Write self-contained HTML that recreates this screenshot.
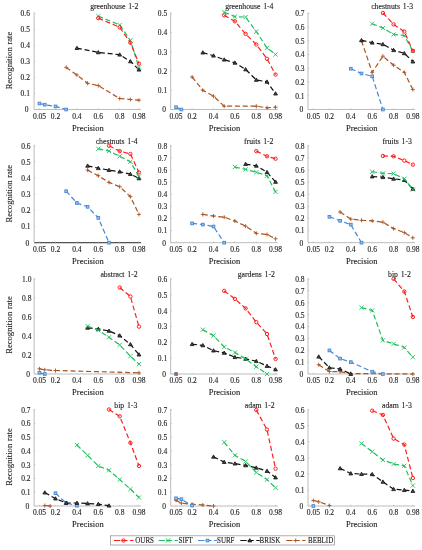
<!DOCTYPE html>
<html><head><meta charset="utf-8"><style>
html,body{margin:0;padding:0;background:#fff;}
svg{display:block;}
svg{will-change:transform;}
text{font-family:"Liberation Serif",serif;fill:#1e1e1e;stroke:#1e1e1e;stroke-width:0.12px;}
.t{font-size:7.5px;}
.l{font-size:8.5px;}
.ti{font-size:7.75px;}
.lg{font-size:7px;}
.rr{font-size:8.6px;word-spacing:0.6px;}
.ti{word-spacing:0.8px;}
</style></head><body>
<svg width="422" height="550" viewBox="0 0 422 550">
<rect width="422" height="550" fill="#fff"/>
<g><path d="M34.10 12.50V109.50H141.10" fill="none" stroke="#b4b4b4" stroke-width="0.9"/><text x="28.60" y="112.40" text-anchor="end" class="t">0</text><text x="29.90" y="96.37" text-anchor="end" class="t">0.1</text><text x="29.90" y="80.33" text-anchor="end" class="t">0.2</text><text x="29.90" y="64.30" text-anchor="end" class="t">0.3</text><text x="29.90" y="48.27" text-anchor="end" class="t">0.4</text><text x="29.90" y="32.23" text-anchor="end" class="t">0.5</text><text x="29.90" y="16.20" text-anchor="end" class="t">0.6</text><text x="39.45" y="118.70" text-anchor="middle" class="t">0.05</text><text x="55.50" y="118.70" text-anchor="middle" class="t">0.2</text><text x="76.90" y="118.70" text-anchor="middle" class="t">0.4</text><text x="98.30" y="118.70" text-anchor="middle" class="t">0.6</text><text x="119.70" y="118.70" text-anchor="middle" class="t">0.8</text><text x="138.96" y="118.70" text-anchor="middle" class="t">0.98</text><path d="M34.10 109.50h1.2M34.10 93.47h1.2M34.10 77.43h1.2M34.10 61.40h1.2M34.10 45.37h1.2M34.10 29.33h1.2M34.10 13.30h1.2M39.45 109.50v-1.2M55.50 109.50v-1.2M76.90 109.50v-1.2M98.30 109.50v-1.2M119.70 109.50v-1.2M138.96 109.50v-1.2" stroke="#b4b4b4" stroke-width="0.7"/><text x="87.90" y="130.90" text-anchor="middle" class="l">Precision</text><text transform="translate(12.0 60.50) rotate(-90)" text-anchor="middle" class="rr">Recognition rate</text><text x="138.50" y="9.30" text-anchor="end" class="ti">greenhouse  1-2</text><path d="M66.20 67.40L76.90 75.00L87.60 83.30L98.30 85.60L119.70 98.50L130.40 99.50L138.96 100.20" fill="none" stroke="#a9541f" stroke-width="1.2" stroke-dasharray="5 2.8"/><path d="M64.20 67.40L68.20 67.40M66.20 65.40L66.20 69.40" stroke="#a9541f" stroke-width="0.9"/><path d="M74.90 75.00L78.90 75.00M76.90 73.00L76.90 77.00" stroke="#a9541f" stroke-width="0.9"/><path d="M85.60 83.30L89.60 83.30M87.60 81.30L87.60 85.30" stroke="#a9541f" stroke-width="0.9"/><path d="M96.30 85.60L100.30 85.60M98.30 83.60L98.30 87.60" stroke="#a9541f" stroke-width="0.9"/><path d="M117.70 98.50L121.70 98.50M119.70 96.50L119.70 100.50" stroke="#a9541f" stroke-width="0.9"/><path d="M128.40 99.50L132.40 99.50M130.40 97.50L130.40 101.50" stroke="#a9541f" stroke-width="0.9"/><path d="M136.96 100.20L140.96 100.20M138.96 98.20L138.96 102.20" stroke="#a9541f" stroke-width="0.9"/><path d="M39.45 103.50L44.80 104.70L55.50 106.40L66.20 109.50" fill="none" stroke="#4787d2" stroke-width="1.2" stroke-dasharray="5 2.8"/><rect x="38.10" y="102.15" width="2.70" height="2.70" fill="#9cc0ea" stroke="#4787d2" stroke-width="0.9"/><rect x="43.45" y="103.35" width="2.70" height="2.70" fill="#9cc0ea" stroke="#4787d2" stroke-width="0.9"/><rect x="54.15" y="105.05" width="2.70" height="2.70" fill="#9cc0ea" stroke="#4787d2" stroke-width="0.9"/><rect x="64.85" y="108.15" width="2.70" height="2.70" fill="#9cc0ea" stroke="#4787d2" stroke-width="0.9"/><path d="M76.90 48.10L98.30 52.40L119.70 54.70L130.40 61.40L138.96 69.70" fill="none" stroke="#111111" stroke-width="1.2" stroke-dasharray="5 2.8"/><path d="M76.90 46.20L78.80 49.52L75.00 49.52Z" fill="#444" stroke="#111111" stroke-width="0.8"/><path d="M98.30 50.50L100.20 53.82L96.40 53.82Z" fill="#444" stroke="#111111" stroke-width="0.8"/><path d="M119.70 52.80L121.60 56.12L117.80 56.12Z" fill="#444" stroke="#111111" stroke-width="0.8"/><path d="M130.40 59.50L132.30 62.82L128.50 62.82Z" fill="#444" stroke="#111111" stroke-width="0.8"/><path d="M138.96 67.80L140.86 71.12L137.06 71.12Z" fill="#444" stroke="#111111" stroke-width="0.8"/><path d="M98.30 16.10L119.70 25.00L130.40 40.40L138.96 67.40" fill="none" stroke="#1fbf5f" stroke-width="1.2" stroke-dasharray="5 2.8"/><path d="M96.20 14.00L100.40 18.20M96.20 18.20L100.40 14.00" stroke="#1fbf5f" stroke-width="0.9"/><path d="M117.60 22.90L121.80 27.10M117.60 27.10L121.80 22.90" stroke="#1fbf5f" stroke-width="0.9"/><path d="M128.30 38.30L132.50 42.50M128.30 42.50L132.50 38.30" stroke="#1fbf5f" stroke-width="0.9"/><path d="M136.86 65.30L141.06 69.50M136.86 69.50L141.06 65.30" stroke="#1fbf5f" stroke-width="0.9"/><path d="M98.30 18.10L119.70 27.30L130.40 42.70L138.96 63.60" fill="none" stroke="#ff1e1e" stroke-width="1.2" stroke-dasharray="5 2.8"/><circle cx="98.30" cy="18.10" r="1.7" fill="none" stroke="#ff1e1e" stroke-width="1.0"/><circle cx="119.70" cy="27.30" r="1.7" fill="none" stroke="#ff1e1e" stroke-width="1.0"/><circle cx="130.40" cy="42.70" r="1.7" fill="none" stroke="#ff1e1e" stroke-width="1.0"/><circle cx="138.96" cy="63.60" r="1.7" fill="none" stroke="#ff1e1e" stroke-width="1.0"/></g><g><path d="M170.70 12.50V109.50H277.70" fill="none" stroke="#b4b4b4" stroke-width="0.9"/><text x="165.90" y="112.40" text-anchor="end" class="t">0</text><text x="167.20" y="93.16" text-anchor="end" class="t">0.1</text><text x="167.20" y="73.92" text-anchor="end" class="t">0.2</text><text x="167.20" y="54.68" text-anchor="end" class="t">0.3</text><text x="167.20" y="35.44" text-anchor="end" class="t">0.4</text><text x="167.20" y="16.20" text-anchor="end" class="t">0.5</text><text x="176.05" y="118.70" text-anchor="middle" class="t">0.05</text><text x="192.10" y="118.70" text-anchor="middle" class="t">0.2</text><text x="213.50" y="118.70" text-anchor="middle" class="t">0.4</text><text x="234.90" y="118.70" text-anchor="middle" class="t">0.6</text><text x="256.30" y="118.70" text-anchor="middle" class="t">0.8</text><text x="275.56" y="118.70" text-anchor="middle" class="t">0.98</text><path d="M170.70 109.50h1.2M170.70 90.26h1.2M170.70 71.02h1.2M170.70 51.78h1.2M170.70 32.54h1.2M170.70 13.30h1.2M176.05 109.50v-1.2M192.10 109.50v-1.2M213.50 109.50v-1.2M234.90 109.50v-1.2M256.30 109.50v-1.2M275.56 109.50v-1.2" stroke="#b4b4b4" stroke-width="0.7"/><text x="224.50" y="130.90" text-anchor="middle" class="l">Precision</text><text x="273.50" y="9.30" text-anchor="end" class="ti">greenhouse  1-4</text><path d="M192.10 77.00L202.80 90.20L213.50 96.20L224.20 106.20L256.30 106.20L267.00 107.80L275.56 107.20" fill="none" stroke="#a9541f" stroke-width="1.2" stroke-dasharray="5 2.8"/><path d="M190.10 77.00L194.10 77.00M192.10 75.00L192.10 79.00" stroke="#a9541f" stroke-width="0.9"/><path d="M200.80 90.20L204.80 90.20M202.80 88.20L202.80 92.20" stroke="#a9541f" stroke-width="0.9"/><path d="M211.50 96.20L215.50 96.20M213.50 94.20L213.50 98.20" stroke="#a9541f" stroke-width="0.9"/><path d="M222.20 106.20L226.20 106.20M224.20 104.20L224.20 108.20" stroke="#a9541f" stroke-width="0.9"/><path d="M254.30 106.20L258.30 106.20M256.30 104.20L256.30 108.20" stroke="#a9541f" stroke-width="0.9"/><path d="M265.00 107.80L269.00 107.80M267.00 105.80L267.00 109.80" stroke="#a9541f" stroke-width="0.9"/><path d="M273.56 107.20L277.56 107.20M275.56 105.20L275.56 109.20" stroke="#a9541f" stroke-width="0.9"/><path d="M176.05 107.20L181.40 109.50" fill="none" stroke="#4787d2" stroke-width="1.2" stroke-dasharray="5 2.8"/><rect x="174.70" y="105.85" width="2.70" height="2.70" fill="#9cc0ea" stroke="#4787d2" stroke-width="0.9"/><rect x="180.05" y="108.15" width="2.70" height="2.70" fill="#9cc0ea" stroke="#4787d2" stroke-width="0.9"/><path d="M202.80 52.60L213.50 55.70L224.20 59.70L234.90 62.80L245.60 69.40L256.30 79.90L267.00 81.80L275.56 93.60" fill="none" stroke="#111111" stroke-width="1.2" stroke-dasharray="5 2.8"/><path d="M202.80 50.70L204.70 54.02L200.90 54.02Z" fill="#444" stroke="#111111" stroke-width="0.8"/><path d="M213.50 53.80L215.40 57.12L211.60 57.12Z" fill="#444" stroke="#111111" stroke-width="0.8"/><path d="M224.20 57.80L226.10 61.12L222.30 61.12Z" fill="#444" stroke="#111111" stroke-width="0.8"/><path d="M234.90 60.90L236.80 64.22L233.00 64.22Z" fill="#444" stroke="#111111" stroke-width="0.8"/><path d="M245.60 67.50L247.50 70.83L243.70 70.83Z" fill="#444" stroke="#111111" stroke-width="0.8"/><path d="M256.30 78.00L258.20 81.33L254.40 81.33Z" fill="#444" stroke="#111111" stroke-width="0.8"/><path d="M267.00 79.90L268.90 83.22L265.10 83.22Z" fill="#444" stroke="#111111" stroke-width="0.8"/><path d="M275.56 91.70L277.46 95.02L273.66 95.02Z" fill="#444" stroke="#111111" stroke-width="0.8"/><path d="M224.20 12.30L234.90 16.60L245.60 17.10L256.30 31.50L267.00 47.90L275.56 54.50" fill="none" stroke="#1fbf5f" stroke-width="1.2" stroke-dasharray="5 2.8"/><path d="M222.10 10.20L226.30 14.40M222.10 14.40L226.30 10.20" stroke="#1fbf5f" stroke-width="0.9"/><path d="M232.80 14.50L237.00 18.70M232.80 18.70L237.00 14.50" stroke="#1fbf5f" stroke-width="0.9"/><path d="M243.50 15.00L247.70 19.20M243.50 19.20L247.70 15.00" stroke="#1fbf5f" stroke-width="0.9"/><path d="M254.20 29.40L258.40 33.60M254.20 33.60L258.40 29.40" stroke="#1fbf5f" stroke-width="0.9"/><path d="M264.90 45.80L269.10 50.00M264.90 50.00L269.10 45.80" stroke="#1fbf5f" stroke-width="0.9"/><path d="M273.46 52.40L277.66 56.60M273.46 56.60L277.66 52.40" stroke="#1fbf5f" stroke-width="0.9"/><path d="M224.20 15.40L234.90 21.30L245.60 33.90L256.30 44.50L267.00 58.80L275.56 74.60" fill="none" stroke="#ff1e1e" stroke-width="1.2" stroke-dasharray="5 2.8"/><circle cx="224.20" cy="15.40" r="1.7" fill="none" stroke="#ff1e1e" stroke-width="1.0"/><circle cx="234.90" cy="21.30" r="1.7" fill="none" stroke="#ff1e1e" stroke-width="1.0"/><circle cx="245.60" cy="33.90" r="1.7" fill="none" stroke="#ff1e1e" stroke-width="1.0"/><circle cx="256.30" cy="44.50" r="1.7" fill="none" stroke="#ff1e1e" stroke-width="1.0"/><circle cx="267.00" cy="58.80" r="1.7" fill="none" stroke="#ff1e1e" stroke-width="1.0"/><circle cx="275.56" cy="74.60" r="1.7" fill="none" stroke="#ff1e1e" stroke-width="1.0"/></g><g><path d="M308.00 12.50V109.50H415.00" fill="none" stroke="#b4b4b4" stroke-width="0.9"/><text x="303.20" y="112.40" text-anchor="end" class="t">0</text><text x="304.50" y="98.66" text-anchor="end" class="t">0.1</text><text x="304.50" y="84.91" text-anchor="end" class="t">0.2</text><text x="304.50" y="71.17" text-anchor="end" class="t">0.3</text><text x="304.50" y="57.43" text-anchor="end" class="t">0.4</text><text x="304.50" y="43.69" text-anchor="end" class="t">0.5</text><text x="304.50" y="29.94" text-anchor="end" class="t">0.6</text><text x="304.50" y="16.20" text-anchor="end" class="t">0.7</text><text x="313.35" y="118.70" text-anchor="middle" class="t">0.05</text><text x="329.40" y="118.70" text-anchor="middle" class="t">0.2</text><text x="350.80" y="118.70" text-anchor="middle" class="t">0.4</text><text x="372.20" y="118.70" text-anchor="middle" class="t">0.6</text><text x="393.60" y="118.70" text-anchor="middle" class="t">0.8</text><text x="412.86" y="118.70" text-anchor="middle" class="t">0.98</text><path d="M308.00 109.50h1.2M308.00 95.76h1.2M308.00 82.01h1.2M308.00 68.27h1.2M308.00 54.53h1.2M308.00 40.79h1.2M308.00 27.04h1.2M308.00 13.30h1.2M313.35 109.50v-1.2M329.40 109.50v-1.2M350.80 109.50v-1.2M372.20 109.50v-1.2M393.60 109.50v-1.2M412.86 109.50v-1.2" stroke="#b4b4b4" stroke-width="0.7"/><text x="361.80" y="130.90" text-anchor="middle" class="l">Precision</text><text x="413.10" y="9.30" text-anchor="end" class="ti">chestnuts  1-3</text><path d="M361.50 40.80L372.20 72.30L382.90 56.20L393.60 65.20L404.30 72.30L412.86 89.60" fill="none" stroke="#a9541f" stroke-width="1.2" stroke-dasharray="5 2.8"/><path d="M359.50 40.80L363.50 40.80M361.50 38.80L361.50 42.80" stroke="#a9541f" stroke-width="0.9"/><path d="M370.20 72.30L374.20 72.30M372.20 70.30L372.20 74.30" stroke="#a9541f" stroke-width="0.9"/><path d="M380.90 56.20L384.90 56.20M382.90 54.20L382.90 58.20" stroke="#a9541f" stroke-width="0.9"/><path d="M391.60 65.20L395.60 65.20M393.60 63.20L393.60 67.20" stroke="#a9541f" stroke-width="0.9"/><path d="M402.30 72.30L406.30 72.30M404.30 70.30L404.30 74.30" stroke="#a9541f" stroke-width="0.9"/><path d="M410.86 89.60L414.86 89.60M412.86 87.60L412.86 91.60" stroke="#a9541f" stroke-width="0.9"/><path d="M350.80 68.70L361.50 73.50L372.20 76.30L382.90 109.50" fill="none" stroke="#4787d2" stroke-width="1.2" stroke-dasharray="5 2.8"/><rect x="349.45" y="67.35" width="2.70" height="2.70" fill="#9cc0ea" stroke="#4787d2" stroke-width="0.9"/><rect x="360.15" y="72.15" width="2.70" height="2.70" fill="#9cc0ea" stroke="#4787d2" stroke-width="0.9"/><rect x="370.85" y="74.95" width="2.70" height="2.70" fill="#9cc0ea" stroke="#4787d2" stroke-width="0.9"/><rect x="381.55" y="108.15" width="2.70" height="2.70" fill="#9cc0ea" stroke="#4787d2" stroke-width="0.9"/><path d="M361.50 40.30L372.20 42.70L382.90 44.30L393.60 50.20L404.30 53.30L412.86 61.60" fill="none" stroke="#111111" stroke-width="1.2" stroke-dasharray="5 2.8"/><path d="M361.50 38.40L363.40 41.72L359.60 41.72Z" fill="#444" stroke="#111111" stroke-width="0.8"/><path d="M372.20 40.80L374.10 44.12L370.30 44.12Z" fill="#444" stroke="#111111" stroke-width="0.8"/><path d="M382.90 42.40L384.80 45.72L381.00 45.72Z" fill="#444" stroke="#111111" stroke-width="0.8"/><path d="M393.60 48.30L395.50 51.62L391.70 51.62Z" fill="#444" stroke="#111111" stroke-width="0.8"/><path d="M404.30 51.40L406.20 54.72L402.40 54.72Z" fill="#444" stroke="#111111" stroke-width="0.8"/><path d="M412.86 59.70L414.76 63.02L410.96 63.02Z" fill="#444" stroke="#111111" stroke-width="0.8"/><path d="M372.20 23.70L382.90 28.00L393.60 34.40L404.30 35.50L412.86 51.00" fill="none" stroke="#1fbf5f" stroke-width="1.2" stroke-dasharray="5 2.8"/><path d="M370.10 21.60L374.30 25.80M370.10 25.80L374.30 21.60" stroke="#1fbf5f" stroke-width="0.9"/><path d="M380.80 25.90L385.00 30.10M380.80 30.10L385.00 25.90" stroke="#1fbf5f" stroke-width="0.9"/><path d="M391.50 32.30L395.70 36.50M391.50 36.50L395.70 32.30" stroke="#1fbf5f" stroke-width="0.9"/><path d="M402.20 33.40L406.40 37.60M402.20 37.60L406.40 33.40" stroke="#1fbf5f" stroke-width="0.9"/><path d="M410.76 48.90L414.96 53.10M410.76 53.10L414.96 48.90" stroke="#1fbf5f" stroke-width="0.9"/><path d="M382.90 13.00L393.60 24.40L404.30 31.50L412.86 51.00" fill="none" stroke="#ff1e1e" stroke-width="1.2" stroke-dasharray="5 2.8"/><circle cx="382.90" cy="13.00" r="1.7" fill="none" stroke="#ff1e1e" stroke-width="1.0"/><circle cx="393.60" cy="24.40" r="1.7" fill="none" stroke="#ff1e1e" stroke-width="1.0"/><circle cx="404.30" cy="31.50" r="1.7" fill="none" stroke="#ff1e1e" stroke-width="1.0"/><circle cx="412.86" cy="51.00" r="1.7" fill="none" stroke="#ff1e1e" stroke-width="1.0"/></g><g><path d="M34.10 144.90V242.70H141.10" fill="none" stroke="#b4b4b4" stroke-width="0.9"/><path d="M34.10 242.70H141.10" fill="none" stroke="#3a3a3a" stroke-width="1"/><text x="29.30" y="245.60" text-anchor="end" class="t">0</text><text x="30.60" y="229.43" text-anchor="end" class="t">0.1</text><text x="30.60" y="213.27" text-anchor="end" class="t">0.2</text><text x="30.60" y="197.10" text-anchor="end" class="t">0.3</text><text x="30.60" y="180.93" text-anchor="end" class="t">0.4</text><text x="30.60" y="164.77" text-anchor="end" class="t">0.5</text><text x="30.60" y="148.60" text-anchor="end" class="t">0.6</text><text x="39.45" y="251.90" text-anchor="middle" class="t">0.05</text><text x="55.50" y="251.90" text-anchor="middle" class="t">0.2</text><text x="76.90" y="251.90" text-anchor="middle" class="t">0.4</text><text x="98.30" y="251.90" text-anchor="middle" class="t">0.6</text><text x="119.70" y="251.90" text-anchor="middle" class="t">0.8</text><text x="138.96" y="251.90" text-anchor="middle" class="t">0.98</text><path d="M34.10 242.70h1.2M34.10 226.53h1.2M34.10 210.37h1.2M34.10 194.20h1.2M34.10 178.03h1.2M34.10 161.87h1.2M34.10 145.70h1.2M39.45 242.70v-1.2M55.50 242.70v-1.2M76.90 242.70v-1.2M98.30 242.70v-1.2M119.70 242.70v-1.2M138.96 242.70v-1.2" stroke="#b4b4b4" stroke-width="0.7"/><text x="87.90" y="264.10" text-anchor="middle" class="l">Precision</text><text transform="translate(12.0 193.70) rotate(-90)" text-anchor="middle" class="rr">Recognition rate</text><text x="137.60" y="143.90" text-anchor="end" class="ti">chestnuts  1-4</text><path d="M87.60 170.10L98.30 175.80L109.00 182.40L119.70 186.70L130.40 196.60L138.96 214.40" fill="none" stroke="#a9541f" stroke-width="1.2" stroke-dasharray="5 2.8"/><path d="M85.60 170.10L89.60 170.10M87.60 168.10L87.60 172.10" stroke="#a9541f" stroke-width="0.9"/><path d="M96.30 175.80L100.30 175.80M98.30 173.80L98.30 177.80" stroke="#a9541f" stroke-width="0.9"/><path d="M107.00 182.40L111.00 182.40M109.00 180.40L109.00 184.40" stroke="#a9541f" stroke-width="0.9"/><path d="M117.70 186.70L121.70 186.70M119.70 184.70L119.70 188.70" stroke="#a9541f" stroke-width="0.9"/><path d="M128.40 196.60L132.40 196.60M130.40 194.60L130.40 198.60" stroke="#a9541f" stroke-width="0.9"/><path d="M136.96 214.40L140.96 214.40M138.96 212.40L138.96 216.40" stroke="#a9541f" stroke-width="0.9"/><path d="M66.20 191.20L76.90 203.00L87.60 206.80L98.30 217.90L109.00 242.70" fill="none" stroke="#4787d2" stroke-width="1.2" stroke-dasharray="5 2.8"/><rect x="64.85" y="189.85" width="2.70" height="2.70" fill="#9cc0ea" stroke="#4787d2" stroke-width="0.9"/><rect x="75.55" y="201.65" width="2.70" height="2.70" fill="#9cc0ea" stroke="#4787d2" stroke-width="0.9"/><rect x="86.25" y="205.45" width="2.70" height="2.70" fill="#9cc0ea" stroke="#4787d2" stroke-width="0.9"/><rect x="96.95" y="216.55" width="2.70" height="2.70" fill="#9cc0ea" stroke="#4787d2" stroke-width="0.9"/><rect x="107.65" y="241.35" width="2.70" height="2.70" fill="#9cc0ea" stroke="#4787d2" stroke-width="0.9"/><path d="M87.60 165.80L98.30 168.20L109.00 170.10L119.70 171.70L130.40 174.10L138.96 178.40" fill="none" stroke="#111111" stroke-width="1.2" stroke-dasharray="5 2.8"/><path d="M87.60 163.90L89.50 167.23L85.70 167.23Z" fill="#444" stroke="#111111" stroke-width="0.8"/><path d="M98.30 166.30L100.20 169.62L96.40 169.62Z" fill="#444" stroke="#111111" stroke-width="0.8"/><path d="M109.00 168.20L110.90 171.53L107.10 171.53Z" fill="#444" stroke="#111111" stroke-width="0.8"/><path d="M119.70 169.80L121.60 173.12L117.80 173.12Z" fill="#444" stroke="#111111" stroke-width="0.8"/><path d="M130.40 172.20L132.30 175.53L128.50 175.53Z" fill="#444" stroke="#111111" stroke-width="0.8"/><path d="M138.96 176.50L140.86 179.83L137.06 179.83Z" fill="#444" stroke="#111111" stroke-width="0.8"/><path d="M98.30 148.70L109.00 151.10L119.70 156.30L130.40 161.80L138.96 176.50" fill="none" stroke="#1fbf5f" stroke-width="1.2" stroke-dasharray="5 2.8"/><path d="M96.20 146.60L100.40 150.80M96.20 150.80L100.40 146.60" stroke="#1fbf5f" stroke-width="0.9"/><path d="M106.90 149.00L111.10 153.20M106.90 153.20L111.10 149.00" stroke="#1fbf5f" stroke-width="0.9"/><path d="M117.60 154.20L121.80 158.40M117.60 158.40L121.80 154.20" stroke="#1fbf5f" stroke-width="0.9"/><path d="M128.30 159.70L132.50 163.90M128.30 163.90L132.50 159.70" stroke="#1fbf5f" stroke-width="0.9"/><path d="M136.86 174.40L141.06 178.60M136.86 178.60L141.06 174.40" stroke="#1fbf5f" stroke-width="0.9"/><path d="M109.00 145.70L119.70 151.10L130.40 154.00L138.96 172.40" fill="none" stroke="#ff1e1e" stroke-width="1.2" stroke-dasharray="5 2.8"/><circle cx="109.00" cy="145.70" r="1.7" fill="none" stroke="#ff1e1e" stroke-width="1.0"/><circle cx="119.70" cy="151.10" r="1.7" fill="none" stroke="#ff1e1e" stroke-width="1.0"/><circle cx="130.40" cy="154.00" r="1.7" fill="none" stroke="#ff1e1e" stroke-width="1.0"/><circle cx="138.96" cy="172.40" r="1.7" fill="none" stroke="#ff1e1e" stroke-width="1.0"/></g><g><path d="M170.70 144.90V242.70H277.70" fill="none" stroke="#b4b4b4" stroke-width="0.9"/><text x="165.90" y="245.60" text-anchor="end" class="t">0</text><text x="167.20" y="233.47" text-anchor="end" class="t">0.1</text><text x="167.20" y="221.35" text-anchor="end" class="t">0.2</text><text x="167.20" y="209.22" text-anchor="end" class="t">0.3</text><text x="167.20" y="197.10" text-anchor="end" class="t">0.4</text><text x="167.20" y="184.97" text-anchor="end" class="t">0.5</text><text x="167.20" y="172.85" text-anchor="end" class="t">0.6</text><text x="167.20" y="160.72" text-anchor="end" class="t">0.7</text><text x="167.20" y="148.60" text-anchor="end" class="t">0.8</text><text x="176.05" y="251.90" text-anchor="middle" class="t">0.05</text><text x="192.10" y="251.90" text-anchor="middle" class="t">0.2</text><text x="213.50" y="251.90" text-anchor="middle" class="t">0.4</text><text x="234.90" y="251.90" text-anchor="middle" class="t">0.6</text><text x="256.30" y="251.90" text-anchor="middle" class="t">0.8</text><text x="275.56" y="251.90" text-anchor="middle" class="t">0.98</text><path d="M170.70 242.70h1.2M170.70 230.57h1.2M170.70 218.45h1.2M170.70 206.32h1.2M170.70 194.20h1.2M170.70 182.07h1.2M170.70 169.95h1.2M170.70 157.82h1.2M170.70 145.70h1.2M176.05 242.70v-1.2M192.10 242.70v-1.2M213.50 242.70v-1.2M234.90 242.70v-1.2M256.30 242.70v-1.2M275.56 242.70v-1.2" stroke="#b4b4b4" stroke-width="0.7"/><text x="224.50" y="264.10" text-anchor="middle" class="l">Precision</text><text x="273.50" y="143.90" text-anchor="end" class="ti">fruits  1-2</text><path d="M202.80 214.40L213.50 216.00L224.20 217.20L234.90 221.00L245.60 226.20L256.30 233.30L267.00 234.50L275.56 238.80" fill="none" stroke="#a9541f" stroke-width="1.2" stroke-dasharray="5 2.8"/><path d="M200.80 214.40L204.80 214.40M202.80 212.40L202.80 216.40" stroke="#a9541f" stroke-width="0.9"/><path d="M211.50 216.00L215.50 216.00M213.50 214.00L213.50 218.00" stroke="#a9541f" stroke-width="0.9"/><path d="M222.20 217.20L226.20 217.20M224.20 215.20L224.20 219.20" stroke="#a9541f" stroke-width="0.9"/><path d="M232.90 221.00L236.90 221.00M234.90 219.00L234.90 223.00" stroke="#a9541f" stroke-width="0.9"/><path d="M243.60 226.20L247.60 226.20M245.60 224.20L245.60 228.20" stroke="#a9541f" stroke-width="0.9"/><path d="M254.30 233.30L258.30 233.30M256.30 231.30L256.30 235.30" stroke="#a9541f" stroke-width="0.9"/><path d="M265.00 234.50L269.00 234.50M267.00 232.50L267.00 236.50" stroke="#a9541f" stroke-width="0.9"/><path d="M273.56 238.80L277.56 238.80M275.56 236.80L275.56 240.80" stroke="#a9541f" stroke-width="0.9"/><path d="M192.10 223.40L202.80 224.60L213.50 226.50L224.20 242.70" fill="none" stroke="#4787d2" stroke-width="1.2" stroke-dasharray="5 2.8"/><rect x="190.75" y="222.05" width="2.70" height="2.70" fill="#9cc0ea" stroke="#4787d2" stroke-width="0.9"/><rect x="201.45" y="223.25" width="2.70" height="2.70" fill="#9cc0ea" stroke="#4787d2" stroke-width="0.9"/><rect x="212.15" y="225.15" width="2.70" height="2.70" fill="#9cc0ea" stroke="#4787d2" stroke-width="0.9"/><rect x="222.85" y="241.35" width="2.70" height="2.70" fill="#9cc0ea" stroke="#4787d2" stroke-width="0.9"/><path d="M245.60 164.10L256.30 165.80L267.00 172.20L275.56 181.90" fill="none" stroke="#111111" stroke-width="1.2" stroke-dasharray="5 2.8"/><path d="M245.60 162.20L247.50 165.53L243.70 165.53Z" fill="#444" stroke="#111111" stroke-width="0.8"/><path d="M256.30 163.90L258.20 167.23L254.40 167.23Z" fill="#444" stroke="#111111" stroke-width="0.8"/><path d="M267.00 170.30L268.90 173.62L265.10 173.62Z" fill="#444" stroke="#111111" stroke-width="0.8"/><path d="M275.56 180.00L277.46 183.33L273.66 183.33Z" fill="#444" stroke="#111111" stroke-width="0.8"/><path d="M234.90 167.00L245.60 169.40L256.30 172.20L267.00 175.80L275.56 191.90" fill="none" stroke="#1fbf5f" stroke-width="1.2" stroke-dasharray="5 2.8"/><path d="M232.80 164.90L237.00 169.10M232.80 169.10L237.00 164.90" stroke="#1fbf5f" stroke-width="0.9"/><path d="M243.50 167.30L247.70 171.50M243.50 171.50L247.70 167.30" stroke="#1fbf5f" stroke-width="0.9"/><path d="M254.20 170.10L258.40 174.30M254.20 174.30L258.40 170.10" stroke="#1fbf5f" stroke-width="0.9"/><path d="M264.90 173.70L269.10 177.90M264.90 177.90L269.10 173.70" stroke="#1fbf5f" stroke-width="0.9"/><path d="M273.46 189.80L277.66 194.00M273.46 194.00L277.66 189.80" stroke="#1fbf5f" stroke-width="0.9"/><path d="M256.30 151.10L267.00 156.30L275.56 158.70" fill="none" stroke="#ff1e1e" stroke-width="1.2" stroke-dasharray="5 2.8"/><circle cx="256.30" cy="151.10" r="1.7" fill="none" stroke="#ff1e1e" stroke-width="1.0"/><circle cx="267.00" cy="156.30" r="1.7" fill="none" stroke="#ff1e1e" stroke-width="1.0"/><circle cx="275.56" cy="158.70" r="1.7" fill="none" stroke="#ff1e1e" stroke-width="1.0"/></g><g><path d="M308.00 144.90V242.70H415.00" fill="none" stroke="#b4b4b4" stroke-width="0.9"/><text x="303.20" y="245.60" text-anchor="end" class="t">0</text><text x="304.50" y="233.47" text-anchor="end" class="t">0.1</text><text x="304.50" y="221.35" text-anchor="end" class="t">0.2</text><text x="304.50" y="209.22" text-anchor="end" class="t">0.3</text><text x="304.50" y="197.10" text-anchor="end" class="t">0.4</text><text x="304.50" y="184.97" text-anchor="end" class="t">0.5</text><text x="304.50" y="172.85" text-anchor="end" class="t">0.6</text><text x="304.50" y="160.72" text-anchor="end" class="t">0.7</text><text x="304.50" y="148.60" text-anchor="end" class="t">0.8</text><text x="313.35" y="251.90" text-anchor="middle" class="t">0.05</text><text x="329.40" y="251.90" text-anchor="middle" class="t">0.2</text><text x="350.80" y="251.90" text-anchor="middle" class="t">0.4</text><text x="372.20" y="251.90" text-anchor="middle" class="t">0.6</text><text x="393.60" y="251.90" text-anchor="middle" class="t">0.8</text><text x="412.86" y="251.90" text-anchor="middle" class="t">0.98</text><path d="M308.00 242.70h1.2M308.00 230.57h1.2M308.00 218.45h1.2M308.00 206.32h1.2M308.00 194.20h1.2M308.00 182.07h1.2M308.00 169.95h1.2M308.00 157.82h1.2M308.00 145.70h1.2M313.35 242.70v-1.2M329.40 242.70v-1.2M350.80 242.70v-1.2M372.20 242.70v-1.2M393.60 242.70v-1.2M412.86 242.70v-1.2" stroke="#b4b4b4" stroke-width="0.7"/><text x="361.80" y="264.10" text-anchor="middle" class="l">Precision</text><text x="411.90" y="143.90" text-anchor="end" class="ti">fruits  1-3</text><path d="M340.10 212.00L350.80 219.10L361.50 220.30L372.20 220.80L382.90 222.20L393.60 228.60L404.30 232.60L412.86 237.80" fill="none" stroke="#a9541f" stroke-width="1.2" stroke-dasharray="5 2.8"/><path d="M338.10 212.00L342.10 212.00M340.10 210.00L340.10 214.00" stroke="#a9541f" stroke-width="0.9"/><path d="M348.80 219.10L352.80 219.10M350.80 217.10L350.80 221.10" stroke="#a9541f" stroke-width="0.9"/><path d="M359.50 220.30L363.50 220.30M361.50 218.30L361.50 222.30" stroke="#a9541f" stroke-width="0.9"/><path d="M370.20 220.80L374.20 220.80M372.20 218.80L372.20 222.80" stroke="#a9541f" stroke-width="0.9"/><path d="M380.90 222.20L384.90 222.20M382.90 220.20L382.90 224.20" stroke="#a9541f" stroke-width="0.9"/><path d="M391.60 228.60L395.60 228.60M393.60 226.60L393.60 230.60" stroke="#a9541f" stroke-width="0.9"/><path d="M402.30 232.60L406.30 232.60M404.30 230.60L404.30 234.60" stroke="#a9541f" stroke-width="0.9"/><path d="M410.86 237.80L414.86 237.80M412.86 235.80L412.86 239.80" stroke="#a9541f" stroke-width="0.9"/><path d="M329.40 216.80L340.10 220.80L350.80 224.60L361.50 242.70" fill="none" stroke="#4787d2" stroke-width="1.2" stroke-dasharray="5 2.8"/><rect x="328.05" y="215.45" width="2.70" height="2.70" fill="#9cc0ea" stroke="#4787d2" stroke-width="0.9"/><rect x="338.75" y="219.45" width="2.70" height="2.70" fill="#9cc0ea" stroke="#4787d2" stroke-width="0.9"/><rect x="349.45" y="223.25" width="2.70" height="2.70" fill="#9cc0ea" stroke="#4787d2" stroke-width="0.9"/><rect x="360.15" y="241.35" width="2.70" height="2.70" fill="#9cc0ea" stroke="#4787d2" stroke-width="0.9"/><path d="M372.20 176.50L382.90 177.20L393.60 178.80L404.30 180.00L412.86 189.00" fill="none" stroke="#111111" stroke-width="1.2" stroke-dasharray="5 2.8"/><path d="M372.20 174.60L374.10 177.93L370.30 177.93Z" fill="#444" stroke="#111111" stroke-width="0.8"/><path d="M382.90 175.30L384.80 178.62L381.00 178.62Z" fill="#444" stroke="#111111" stroke-width="0.8"/><path d="M393.60 176.90L395.50 180.23L391.70 180.23Z" fill="#444" stroke="#111111" stroke-width="0.8"/><path d="M404.30 178.10L406.20 181.43L402.40 181.43Z" fill="#444" stroke="#111111" stroke-width="0.8"/><path d="M412.86 187.10L414.76 190.43L410.96 190.43Z" fill="#444" stroke="#111111" stroke-width="0.8"/><path d="M372.20 171.70L382.90 173.40L393.60 173.60L404.30 178.80L412.86 189.50" fill="none" stroke="#1fbf5f" stroke-width="1.2" stroke-dasharray="5 2.8"/><path d="M370.10 169.60L374.30 173.80M370.10 173.80L374.30 169.60" stroke="#1fbf5f" stroke-width="0.9"/><path d="M380.80 171.30L385.00 175.50M380.80 175.50L385.00 171.30" stroke="#1fbf5f" stroke-width="0.9"/><path d="M391.50 171.50L395.70 175.70M391.50 175.70L395.70 171.50" stroke="#1fbf5f" stroke-width="0.9"/><path d="M402.20 176.70L406.40 180.90M402.20 180.90L406.40 176.70" stroke="#1fbf5f" stroke-width="0.9"/><path d="M410.76 187.40L414.96 191.60M410.76 191.60L414.96 187.40" stroke="#1fbf5f" stroke-width="0.9"/><path d="M382.90 155.90L393.60 156.30L404.30 160.60L412.86 164.60" fill="none" stroke="#ff1e1e" stroke-width="1.2" stroke-dasharray="5 2.8"/><circle cx="382.90" cy="155.90" r="1.7" fill="none" stroke="#ff1e1e" stroke-width="1.0"/><circle cx="393.60" cy="156.30" r="1.7" fill="none" stroke="#ff1e1e" stroke-width="1.0"/><circle cx="404.30" cy="160.60" r="1.7" fill="none" stroke="#ff1e1e" stroke-width="1.0"/><circle cx="412.86" cy="164.60" r="1.7" fill="none" stroke="#ff1e1e" stroke-width="1.0"/></g><g><path d="M34.10 278.20V374.00H141.10" fill="none" stroke="#b4b4b4" stroke-width="0.9"/><text x="30.10" y="376.90" text-anchor="end" class="t">0</text><text x="31.40" y="357.90" text-anchor="end" class="t">0.2</text><text x="31.40" y="338.90" text-anchor="end" class="t">0.4</text><text x="31.40" y="319.90" text-anchor="end" class="t">0.6</text><text x="31.40" y="300.90" text-anchor="end" class="t">0.8</text><text x="31.40" y="281.90" text-anchor="end" class="t">1.0</text><text x="39.45" y="383.20" text-anchor="middle" class="t">0.05</text><text x="55.50" y="383.20" text-anchor="middle" class="t">0.2</text><text x="76.90" y="383.20" text-anchor="middle" class="t">0.4</text><text x="98.30" y="383.20" text-anchor="middle" class="t">0.6</text><text x="119.70" y="383.20" text-anchor="middle" class="t">0.8</text><text x="138.96" y="383.20" text-anchor="middle" class="t">0.98</text><path d="M34.10 374.00h1.2M34.10 355.00h1.2M34.10 336.00h1.2M34.10 317.00h1.2M34.10 298.00h1.2M34.10 279.00h1.2M39.45 374.00v-1.2M55.50 374.00v-1.2M76.90 374.00v-1.2M98.30 374.00v-1.2M119.70 374.00v-1.2M138.96 374.00v-1.2" stroke="#b4b4b4" stroke-width="0.7"/><text x="87.90" y="395.40" text-anchor="middle" class="l">Precision</text><text transform="translate(12.0 325.00) rotate(-90)" text-anchor="middle" class="rr">Recognition rate</text><text x="137.60" y="277.20" text-anchor="end" class="ti">abstract  1-2</text><path d="M39.45 368.80L44.80 369.80L55.50 370.50L138.96 372.80" fill="none" stroke="#a9541f" stroke-width="1.2" stroke-dasharray="5 2.8"/><path d="M37.45 368.80L41.45 368.80M39.45 366.80L39.45 370.80" stroke="#a9541f" stroke-width="0.9"/><path d="M42.80 369.80L46.80 369.80M44.80 367.80L44.80 371.80" stroke="#a9541f" stroke-width="0.9"/><path d="M53.50 370.50L57.50 370.50M55.50 368.50L55.50 372.50" stroke="#a9541f" stroke-width="0.9"/><path d="M136.96 372.80L140.96 372.80M138.96 370.80L138.96 374.80" stroke="#a9541f" stroke-width="0.9"/><path d="M39.45 372.80L44.80 374.00" fill="none" stroke="#4787d2" stroke-width="1.2" stroke-dasharray="5 2.8"/><rect x="38.10" y="371.45" width="2.70" height="2.70" fill="#9cc0ea" stroke="#4787d2" stroke-width="0.9"/><rect x="43.45" y="372.65" width="2.70" height="2.70" fill="#9cc0ea" stroke="#4787d2" stroke-width="0.9"/><path d="M87.60 327.80L98.30 329.00L109.00 330.90L119.70 335.60L130.40 344.40L138.96 354.60" fill="none" stroke="#111111" stroke-width="1.2" stroke-dasharray="5 2.8"/><path d="M87.60 325.90L89.50 329.23L85.70 329.23Z" fill="#444" stroke="#111111" stroke-width="0.8"/><path d="M98.30 327.10L100.20 330.43L96.40 330.43Z" fill="#444" stroke="#111111" stroke-width="0.8"/><path d="M109.00 329.00L110.90 332.32L107.10 332.32Z" fill="#444" stroke="#111111" stroke-width="0.8"/><path d="M119.70 333.70L121.60 337.03L117.80 337.03Z" fill="#444" stroke="#111111" stroke-width="0.8"/><path d="M130.40 342.50L132.30 345.82L128.50 345.82Z" fill="#444" stroke="#111111" stroke-width="0.8"/><path d="M138.96 352.70L140.86 356.03L137.06 356.03Z" fill="#444" stroke="#111111" stroke-width="0.8"/><path d="M87.60 326.10L98.30 330.20L109.00 337.30L119.70 344.90L130.40 356.20L138.96 364.10" fill="none" stroke="#1fbf5f" stroke-width="1.2" stroke-dasharray="5 2.8"/><path d="M85.50 324.00L89.70 328.20M85.50 328.20L89.70 324.00" stroke="#1fbf5f" stroke-width="0.9"/><path d="M96.20 328.10L100.40 332.30M96.20 332.30L100.40 328.10" stroke="#1fbf5f" stroke-width="0.9"/><path d="M106.90 335.20L111.10 339.40M106.90 339.40L111.10 335.20" stroke="#1fbf5f" stroke-width="0.9"/><path d="M117.60 342.80L121.80 347.00M117.60 347.00L121.80 342.80" stroke="#1fbf5f" stroke-width="0.9"/><path d="M128.30 354.10L132.50 358.30M128.30 358.30L132.50 354.10" stroke="#1fbf5f" stroke-width="0.9"/><path d="M136.86 362.00L141.06 366.20M136.86 366.20L141.06 362.00" stroke="#1fbf5f" stroke-width="0.9"/><path d="M119.70 287.50L130.40 296.50L138.96 326.60" fill="none" stroke="#ff1e1e" stroke-width="1.2" stroke-dasharray="5 2.8"/><circle cx="119.70" cy="287.50" r="1.7" fill="none" stroke="#ff1e1e" stroke-width="1.0"/><circle cx="130.40" cy="296.50" r="1.7" fill="none" stroke="#ff1e1e" stroke-width="1.0"/><circle cx="138.96" cy="326.60" r="1.7" fill="none" stroke="#ff1e1e" stroke-width="1.0"/></g><g><path d="M170.70 278.20V374.00H277.70" fill="none" stroke="#b4b4b4" stroke-width="0.9"/><text x="165.90" y="376.90" text-anchor="end" class="t">0</text><text x="167.20" y="361.07" text-anchor="end" class="t">0.1</text><text x="167.20" y="345.23" text-anchor="end" class="t">0.2</text><text x="167.20" y="329.40" text-anchor="end" class="t">0.3</text><text x="167.20" y="313.57" text-anchor="end" class="t">0.4</text><text x="167.20" y="297.73" text-anchor="end" class="t">0.5</text><text x="167.20" y="281.90" text-anchor="end" class="t">0.6</text><text x="176.05" y="383.20" text-anchor="middle" class="t">0.05</text><text x="192.10" y="383.20" text-anchor="middle" class="t">0.2</text><text x="213.50" y="383.20" text-anchor="middle" class="t">0.4</text><text x="234.90" y="383.20" text-anchor="middle" class="t">0.6</text><text x="256.30" y="383.20" text-anchor="middle" class="t">0.8</text><text x="275.56" y="383.20" text-anchor="middle" class="t">0.98</text><path d="M170.70 374.00h1.2M170.70 358.17h1.2M170.70 342.33h1.2M170.70 326.50h1.2M170.70 310.67h1.2M170.70 294.83h1.2M170.70 279.00h1.2M176.05 374.00v-1.2M192.10 374.00v-1.2M213.50 374.00v-1.2M234.90 374.00v-1.2M256.30 374.00v-1.2M275.56 374.00v-1.2" stroke="#b4b4b4" stroke-width="0.7"/><text x="224.50" y="395.40" text-anchor="middle" class="l">Precision</text><text x="274.90" y="277.20" text-anchor="end" class="ti">gardens  1-2</text><rect x="174.70" y="372.65" width="2.70" height="2.70" fill="#9cc0ea" stroke="#4787d2" stroke-width="0.9"/><path d="M174.05 374.00L178.05 374.00M176.05 372.00L176.05 376.00" stroke="#a9541f" stroke-width="0.9"/><path d="M192.10 344.20L202.80 345.40L213.50 350.60L224.20 352.90L234.90 357.20L245.60 358.90L256.30 361.20L267.00 366.00L275.56 369.50" fill="none" stroke="#111111" stroke-width="1.2" stroke-dasharray="5 2.8"/><path d="M192.10 342.30L194.00 345.62L190.20 345.62Z" fill="#444" stroke="#111111" stroke-width="0.8"/><path d="M202.80 343.50L204.70 346.82L200.90 346.82Z" fill="#444" stroke="#111111" stroke-width="0.8"/><path d="M213.50 348.70L215.40 352.03L211.60 352.03Z" fill="#444" stroke="#111111" stroke-width="0.8"/><path d="M224.20 351.00L226.10 354.32L222.30 354.32Z" fill="#444" stroke="#111111" stroke-width="0.8"/><path d="M234.90 355.30L236.80 358.62L233.00 358.62Z" fill="#444" stroke="#111111" stroke-width="0.8"/><path d="M245.60 357.00L247.50 360.32L243.70 360.32Z" fill="#444" stroke="#111111" stroke-width="0.8"/><path d="M256.30 359.30L258.20 362.62L254.40 362.62Z" fill="#444" stroke="#111111" stroke-width="0.8"/><path d="M267.00 364.10L268.90 367.43L265.10 367.43Z" fill="#444" stroke="#111111" stroke-width="0.8"/><path d="M275.56 367.60L277.46 370.93L273.66 370.93Z" fill="#444" stroke="#111111" stroke-width="0.8"/><path d="M202.80 329.70L213.50 335.60L224.20 347.00L234.90 352.50L245.60 358.90L256.30 366.70L267.00 374.00" fill="none" stroke="#1fbf5f" stroke-width="1.2" stroke-dasharray="5 2.8"/><path d="M200.70 327.60L204.90 331.80M200.70 331.80L204.90 327.60" stroke="#1fbf5f" stroke-width="0.9"/><path d="M211.40 333.50L215.60 337.70M211.40 337.70L215.60 333.50" stroke="#1fbf5f" stroke-width="0.9"/><path d="M222.10 344.90L226.30 349.10M222.10 349.10L226.30 344.90" stroke="#1fbf5f" stroke-width="0.9"/><path d="M232.80 350.40L237.00 354.60M232.80 354.60L237.00 350.40" stroke="#1fbf5f" stroke-width="0.9"/><path d="M243.50 356.80L247.70 361.00M243.50 361.00L247.70 356.80" stroke="#1fbf5f" stroke-width="0.9"/><path d="M254.20 364.60L258.40 368.80M254.20 368.80L258.40 364.60" stroke="#1fbf5f" stroke-width="0.9"/><path d="M264.90 371.90L269.10 376.10M264.90 376.10L269.10 371.90" stroke="#1fbf5f" stroke-width="0.9"/><path d="M224.20 290.90L234.90 298.90L245.60 308.40L256.30 322.10L267.00 334.00L275.56 358.90" fill="none" stroke="#ff1e1e" stroke-width="1.2" stroke-dasharray="5 2.8"/><circle cx="224.20" cy="290.90" r="1.7" fill="none" stroke="#ff1e1e" stroke-width="1.0"/><circle cx="234.90" cy="298.90" r="1.7" fill="none" stroke="#ff1e1e" stroke-width="1.0"/><circle cx="245.60" cy="308.40" r="1.7" fill="none" stroke="#ff1e1e" stroke-width="1.0"/><circle cx="256.30" cy="322.10" r="1.7" fill="none" stroke="#ff1e1e" stroke-width="1.0"/><circle cx="267.00" cy="334.00" r="1.7" fill="none" stroke="#ff1e1e" stroke-width="1.0"/><circle cx="275.56" cy="358.90" r="1.7" fill="none" stroke="#ff1e1e" stroke-width="1.0"/></g><g><path d="M308.00 278.20V374.00H415.00" fill="none" stroke="#b4b4b4" stroke-width="0.9"/><text x="303.20" y="376.90" text-anchor="end" class="t">0</text><text x="304.50" y="365.02" text-anchor="end" class="t">0.1</text><text x="304.50" y="353.15" text-anchor="end" class="t">0.2</text><text x="304.50" y="341.27" text-anchor="end" class="t">0.3</text><text x="304.50" y="329.40" text-anchor="end" class="t">0.4</text><text x="304.50" y="317.52" text-anchor="end" class="t">0.5</text><text x="304.50" y="305.65" text-anchor="end" class="t">0.6</text><text x="304.50" y="293.77" text-anchor="end" class="t">0.7</text><text x="304.50" y="281.90" text-anchor="end" class="t">0.8</text><text x="313.35" y="383.20" text-anchor="middle" class="t">0.05</text><text x="329.40" y="383.20" text-anchor="middle" class="t">0.2</text><text x="350.80" y="383.20" text-anchor="middle" class="t">0.4</text><text x="372.20" y="383.20" text-anchor="middle" class="t">0.6</text><text x="393.60" y="383.20" text-anchor="middle" class="t">0.8</text><text x="412.86" y="383.20" text-anchor="middle" class="t">0.98</text><path d="M308.00 374.00h1.2M308.00 362.12h1.2M308.00 350.25h1.2M308.00 338.38h1.2M308.00 326.50h1.2M308.00 314.62h1.2M308.00 302.75h1.2M308.00 290.88h1.2M308.00 279.00h1.2M313.35 374.00v-1.2M329.40 374.00v-1.2M350.80 374.00v-1.2M372.20 374.00v-1.2M393.60 374.00v-1.2M412.86 374.00v-1.2" stroke="#b4b4b4" stroke-width="0.7"/><text x="361.80" y="395.40" text-anchor="middle" class="l">Precision</text><text x="411.00" y="277.20" text-anchor="end" class="ti">bip  1-2</text><path d="M318.70 364.70L329.40 371.50L340.10 371.70L350.80 373.60L412.86 374.00" fill="none" stroke="#a9541f" stroke-width="1.2" stroke-dasharray="5 2.8"/><path d="M316.70 364.70L320.70 364.70M318.70 362.70L318.70 366.70" stroke="#a9541f" stroke-width="0.9"/><path d="M327.40 371.50L331.40 371.50M329.40 369.50L329.40 373.50" stroke="#a9541f" stroke-width="0.9"/><path d="M338.10 371.70L342.10 371.70M340.10 369.70L340.10 373.70" stroke="#a9541f" stroke-width="0.9"/><path d="M348.80 373.60L352.80 373.60M350.80 371.60L350.80 375.60" stroke="#a9541f" stroke-width="0.9"/><path d="M410.86 374.00L414.86 374.00M412.86 372.00L412.86 376.00" stroke="#a9541f" stroke-width="0.9"/><path d="M329.40 350.40L340.10 358.60L350.80 362.10L372.20 371.70L382.90 374.00" fill="none" stroke="#4787d2" stroke-width="1.2" stroke-dasharray="5 2.8"/><rect x="328.05" y="349.05" width="2.70" height="2.70" fill="#9cc0ea" stroke="#4787d2" stroke-width="0.9"/><rect x="338.75" y="357.25" width="2.70" height="2.70" fill="#9cc0ea" stroke="#4787d2" stroke-width="0.9"/><rect x="349.45" y="360.75" width="2.70" height="2.70" fill="#9cc0ea" stroke="#4787d2" stroke-width="0.9"/><rect x="370.85" y="370.35" width="2.70" height="2.70" fill="#9cc0ea" stroke="#4787d2" stroke-width="0.9"/><rect x="381.55" y="372.65" width="2.70" height="2.70" fill="#9cc0ea" stroke="#4787d2" stroke-width="0.9"/><path d="M318.70 356.70L329.40 367.70L340.10 369.00L350.80 374.00" fill="none" stroke="#111111" stroke-width="1.2" stroke-dasharray="5 2.8"/><path d="M318.70 354.80L320.60 358.12L316.80 358.12Z" fill="#444" stroke="#111111" stroke-width="0.8"/><path d="M329.40 365.80L331.30 369.12L327.50 369.12Z" fill="#444" stroke="#111111" stroke-width="0.8"/><path d="M340.10 367.10L342.00 370.43L338.20 370.43Z" fill="#444" stroke="#111111" stroke-width="0.8"/><path d="M350.80 372.10L352.70 375.43L348.90 375.43Z" fill="#444" stroke="#111111" stroke-width="0.8"/><path d="M361.50 307.60L372.20 310.40L382.90 340.40L393.60 343.80L404.30 347.50L412.86 357.20" fill="none" stroke="#1fbf5f" stroke-width="1.2" stroke-dasharray="5 2.8"/><path d="M359.40 305.50L363.60 309.70M359.40 309.70L363.60 305.50" stroke="#1fbf5f" stroke-width="0.9"/><path d="M370.10 308.30L374.30 312.50M370.10 312.50L374.30 308.30" stroke="#1fbf5f" stroke-width="0.9"/><path d="M380.80 338.30L385.00 342.50M380.80 342.50L385.00 338.30" stroke="#1fbf5f" stroke-width="0.9"/><path d="M391.50 341.70L395.70 345.90M391.50 345.90L395.70 341.70" stroke="#1fbf5f" stroke-width="0.9"/><path d="M402.20 345.40L406.40 349.60M402.20 349.60L406.40 345.40" stroke="#1fbf5f" stroke-width="0.9"/><path d="M410.76 355.10L414.96 359.30M410.76 359.30L414.96 355.10" stroke="#1fbf5f" stroke-width="0.9"/><path d="M393.60 278.80L404.30 291.50L412.86 317.00" fill="none" stroke="#ff1e1e" stroke-width="1.2" stroke-dasharray="5 2.8"/><circle cx="393.60" cy="278.80" r="1.7" fill="none" stroke="#ff1e1e" stroke-width="1.0"/><circle cx="404.30" cy="291.50" r="1.7" fill="none" stroke="#ff1e1e" stroke-width="1.0"/><circle cx="412.86" cy="317.00" r="1.7" fill="none" stroke="#ff1e1e" stroke-width="1.0"/></g><g><path d="M34.10 409.00V506.00H141.10" fill="none" stroke="#b4b4b4" stroke-width="0.9"/><text x="29.30" y="508.90" text-anchor="end" class="t">0</text><text x="30.60" y="495.16" text-anchor="end" class="t">0.1</text><text x="30.60" y="481.41" text-anchor="end" class="t">0.2</text><text x="30.60" y="467.67" text-anchor="end" class="t">0.3</text><text x="30.60" y="453.93" text-anchor="end" class="t">0.4</text><text x="30.60" y="440.19" text-anchor="end" class="t">0.5</text><text x="30.60" y="426.44" text-anchor="end" class="t">0.6</text><text x="30.60" y="412.70" text-anchor="end" class="t">0.7</text><text x="39.45" y="515.20" text-anchor="middle" class="t">0.05</text><text x="55.50" y="515.20" text-anchor="middle" class="t">0.2</text><text x="76.90" y="515.20" text-anchor="middle" class="t">0.4</text><text x="98.30" y="515.20" text-anchor="middle" class="t">0.6</text><text x="119.70" y="515.20" text-anchor="middle" class="t">0.8</text><text x="138.96" y="515.20" text-anchor="middle" class="t">0.98</text><path d="M34.10 506.00h1.2M34.10 492.26h1.2M34.10 478.51h1.2M34.10 464.77h1.2M34.10 451.03h1.2M34.10 437.29h1.2M34.10 423.54h1.2M34.10 409.80h1.2M39.45 506.00v-1.2M55.50 506.00v-1.2M76.90 506.00v-1.2M98.30 506.00v-1.2M119.70 506.00v-1.2M138.96 506.00v-1.2" stroke="#b4b4b4" stroke-width="0.7"/><text x="87.90" y="527.40" text-anchor="middle" class="l">Precision</text><text transform="translate(12.0 457.00) rotate(-90)" text-anchor="middle" class="rr">Recognition rate</text><text x="137.30" y="407.50" text-anchor="end" class="ti">bip  1-3</text><path d="M44.80 505.50L50.15 506.00" fill="none" stroke="#a9541f" stroke-width="1.2" stroke-dasharray="5 2.8"/><path d="M42.80 505.50L46.80 505.50M44.80 503.50L44.80 507.50" stroke="#a9541f" stroke-width="0.9"/><path d="M48.15 506.00L52.15 506.00M50.15 504.00L50.15 508.00" stroke="#a9541f" stroke-width="0.9"/><path d="M55.50 493.20L66.20 503.00L76.90 505.70" fill="none" stroke="#4787d2" stroke-width="1.2" stroke-dasharray="5 2.8"/><rect x="54.15" y="491.85" width="2.70" height="2.70" fill="#9cc0ea" stroke="#4787d2" stroke-width="0.9"/><rect x="64.85" y="501.65" width="2.70" height="2.70" fill="#9cc0ea" stroke="#4787d2" stroke-width="0.9"/><rect x="75.55" y="504.35" width="2.70" height="2.70" fill="#9cc0ea" stroke="#4787d2" stroke-width="0.9"/><path d="M44.80 492.60L55.50 498.60L66.20 503.00L76.90 503.00L87.60 503.50L98.30 504.10L109.00 505.70" fill="none" stroke="#111111" stroke-width="1.2" stroke-dasharray="5 2.8"/><path d="M44.80 490.70L46.70 494.03L42.90 494.03Z" fill="#444" stroke="#111111" stroke-width="0.8"/><path d="M55.50 496.70L57.40 500.03L53.60 500.03Z" fill="#444" stroke="#111111" stroke-width="0.8"/><path d="M66.20 501.10L68.10 504.43L64.30 504.43Z" fill="#444" stroke="#111111" stroke-width="0.8"/><path d="M76.90 501.10L78.80 504.43L75.00 504.43Z" fill="#444" stroke="#111111" stroke-width="0.8"/><path d="M87.60 501.60L89.50 504.93L85.70 504.93Z" fill="#444" stroke="#111111" stroke-width="0.8"/><path d="M98.30 502.20L100.20 505.53L96.40 505.53Z" fill="#444" stroke="#111111" stroke-width="0.8"/><path d="M109.00 503.80L110.90 507.12L107.10 507.12Z" fill="#444" stroke="#111111" stroke-width="0.8"/><path d="M76.90 445.00L87.60 455.30L98.30 465.90L109.00 470.30L119.70 479.60L130.40 489.10L138.96 497.50" fill="none" stroke="#1fbf5f" stroke-width="1.2" stroke-dasharray="5 2.8"/><path d="M74.80 442.90L79.00 447.10M74.80 447.10L79.00 442.90" stroke="#1fbf5f" stroke-width="0.9"/><path d="M85.50 453.20L89.70 457.40M85.50 457.40L89.70 453.20" stroke="#1fbf5f" stroke-width="0.9"/><path d="M96.20 463.80L100.40 468.00M96.20 468.00L100.40 463.80" stroke="#1fbf5f" stroke-width="0.9"/><path d="M106.90 468.20L111.10 472.40M106.90 472.40L111.10 468.20" stroke="#1fbf5f" stroke-width="0.9"/><path d="M117.60 477.50L121.80 481.70M117.60 481.70L121.80 477.50" stroke="#1fbf5f" stroke-width="0.9"/><path d="M128.30 487.00L132.50 491.20M128.30 491.20L132.50 487.00" stroke="#1fbf5f" stroke-width="0.9"/><path d="M136.86 495.40L141.06 499.60M136.86 499.60L141.06 495.40" stroke="#1fbf5f" stroke-width="0.9"/><path d="M109.00 409.50L119.70 416.30L130.40 442.80L138.96 465.90" fill="none" stroke="#ff1e1e" stroke-width="1.2" stroke-dasharray="5 2.8"/><circle cx="109.00" cy="409.50" r="1.7" fill="none" stroke="#ff1e1e" stroke-width="1.0"/><circle cx="119.70" cy="416.30" r="1.7" fill="none" stroke="#ff1e1e" stroke-width="1.0"/><circle cx="130.40" cy="442.80" r="1.7" fill="none" stroke="#ff1e1e" stroke-width="1.0"/><circle cx="138.96" cy="465.90" r="1.7" fill="none" stroke="#ff1e1e" stroke-width="1.0"/></g><g><path d="M170.70 409.00V506.00H277.70" fill="none" stroke="#b4b4b4" stroke-width="0.9"/><text x="165.90" y="508.90" text-anchor="end" class="t">0</text><text x="167.20" y="495.16" text-anchor="end" class="t">0.1</text><text x="167.20" y="481.41" text-anchor="end" class="t">0.2</text><text x="167.20" y="467.67" text-anchor="end" class="t">0.3</text><text x="167.20" y="453.93" text-anchor="end" class="t">0.4</text><text x="167.20" y="440.19" text-anchor="end" class="t">0.5</text><text x="167.20" y="426.44" text-anchor="end" class="t">0.6</text><text x="167.20" y="412.70" text-anchor="end" class="t">0.7</text><text x="176.05" y="515.20" text-anchor="middle" class="t">0.05</text><text x="192.10" y="515.20" text-anchor="middle" class="t">0.2</text><text x="213.50" y="515.20" text-anchor="middle" class="t">0.4</text><text x="234.90" y="515.20" text-anchor="middle" class="t">0.6</text><text x="256.30" y="515.20" text-anchor="middle" class="t">0.8</text><text x="275.56" y="515.20" text-anchor="middle" class="t">0.98</text><path d="M170.70 506.00h1.2M170.70 492.26h1.2M170.70 478.51h1.2M170.70 464.77h1.2M170.70 451.03h1.2M170.70 437.29h1.2M170.70 423.54h1.2M170.70 409.80h1.2M176.05 506.00v-1.2M192.10 506.00v-1.2M213.50 506.00v-1.2M234.90 506.00v-1.2M256.30 506.00v-1.2M275.56 506.00v-1.2" stroke="#b4b4b4" stroke-width="0.7"/><text x="224.50" y="527.40" text-anchor="middle" class="l">Precision</text><text x="274.70" y="407.50" text-anchor="end" class="ti">adam  1-2</text><path d="M176.05 500.40L181.40 503.20L192.10 504.20L202.80 505.00L213.50 506.00" fill="none" stroke="#a9541f" stroke-width="1.2" stroke-dasharray="5 2.8"/><path d="M174.05 500.40L178.05 500.40M176.05 498.40L176.05 502.40" stroke="#a9541f" stroke-width="0.9"/><path d="M179.40 503.20L183.40 503.20M181.40 501.20L181.40 505.20" stroke="#a9541f" stroke-width="0.9"/><path d="M190.10 504.20L194.10 504.20M192.10 502.20L192.10 506.20" stroke="#a9541f" stroke-width="0.9"/><path d="M200.80 505.00L204.80 505.00M202.80 503.00L202.80 507.00" stroke="#a9541f" stroke-width="0.9"/><path d="M211.50 506.00L215.50 506.00M213.50 504.00L213.50 508.00" stroke="#a9541f" stroke-width="0.9"/><path d="M176.05 498.30L181.40 499.20L192.10 505.60" fill="none" stroke="#4787d2" stroke-width="1.2" stroke-dasharray="5 2.8"/><rect x="174.70" y="496.95" width="2.70" height="2.70" fill="#9cc0ea" stroke="#4787d2" stroke-width="0.9"/><rect x="180.05" y="497.85" width="2.70" height="2.70" fill="#9cc0ea" stroke="#4787d2" stroke-width="0.9"/><rect x="190.75" y="504.25" width="2.70" height="2.70" fill="#9cc0ea" stroke="#4787d2" stroke-width="0.9"/><path d="M213.50 456.80L224.20 462.10L234.90 463.60L245.60 465.40L256.30 467.80L267.00 471.00L275.56 477.50" fill="none" stroke="#111111" stroke-width="1.2" stroke-dasharray="5 2.8"/><path d="M213.50 454.90L215.40 458.23L211.60 458.23Z" fill="#444" stroke="#111111" stroke-width="0.8"/><path d="M224.20 460.20L226.10 463.53L222.30 463.53Z" fill="#444" stroke="#111111" stroke-width="0.8"/><path d="M234.90 461.70L236.80 465.03L233.00 465.03Z" fill="#444" stroke="#111111" stroke-width="0.8"/><path d="M245.60 463.50L247.50 466.82L243.70 466.82Z" fill="#444" stroke="#111111" stroke-width="0.8"/><path d="M256.30 465.90L258.20 469.23L254.40 469.23Z" fill="#444" stroke="#111111" stroke-width="0.8"/><path d="M267.00 469.10L268.90 472.43L265.10 472.43Z" fill="#444" stroke="#111111" stroke-width="0.8"/><path d="M275.56 475.60L277.46 478.93L273.66 478.93Z" fill="#444" stroke="#111111" stroke-width="0.8"/><path d="M224.20 442.30L234.90 455.30L245.60 461.50L256.30 472.50L267.00 479.60L275.56 487.80" fill="none" stroke="#1fbf5f" stroke-width="1.2" stroke-dasharray="5 2.8"/><path d="M222.10 440.20L226.30 444.40M222.10 444.40L226.30 440.20" stroke="#1fbf5f" stroke-width="0.9"/><path d="M232.80 453.20L237.00 457.40M232.80 457.40L237.00 453.20" stroke="#1fbf5f" stroke-width="0.9"/><path d="M243.50 459.40L247.70 463.60M243.50 463.60L247.70 459.40" stroke="#1fbf5f" stroke-width="0.9"/><path d="M254.20 470.40L258.40 474.60M254.20 474.60L258.40 470.40" stroke="#1fbf5f" stroke-width="0.9"/><path d="M264.90 477.50L269.10 481.70M264.90 481.70L269.10 477.50" stroke="#1fbf5f" stroke-width="0.9"/><path d="M273.46 485.70L277.66 489.90M273.46 489.90L277.66 485.70" stroke="#1fbf5f" stroke-width="0.9"/><path d="M256.30 410.00L267.00 429.60L275.56 468.70" fill="none" stroke="#ff1e1e" stroke-width="1.2" stroke-dasharray="5 2.8"/><circle cx="256.30" cy="410.00" r="1.7" fill="none" stroke="#ff1e1e" stroke-width="1.0"/><circle cx="267.00" cy="429.60" r="1.7" fill="none" stroke="#ff1e1e" stroke-width="1.0"/><circle cx="275.56" cy="468.70" r="1.7" fill="none" stroke="#ff1e1e" stroke-width="1.0"/></g><g><path d="M308.00 409.00V506.00H415.00" fill="none" stroke="#b4b4b4" stroke-width="0.9"/><text x="303.20" y="508.90" text-anchor="end" class="t">0</text><text x="304.50" y="492.87" text-anchor="end" class="t">0.1</text><text x="304.50" y="476.83" text-anchor="end" class="t">0.2</text><text x="304.50" y="460.80" text-anchor="end" class="t">0.3</text><text x="304.50" y="444.77" text-anchor="end" class="t">0.4</text><text x="304.50" y="428.73" text-anchor="end" class="t">0.5</text><text x="304.50" y="412.70" text-anchor="end" class="t">0.6</text><text x="313.35" y="515.20" text-anchor="middle" class="t">0.05</text><text x="329.40" y="515.20" text-anchor="middle" class="t">0.2</text><text x="350.80" y="515.20" text-anchor="middle" class="t">0.4</text><text x="372.20" y="515.20" text-anchor="middle" class="t">0.6</text><text x="393.60" y="515.20" text-anchor="middle" class="t">0.8</text><text x="412.86" y="515.20" text-anchor="middle" class="t">0.98</text><path d="M308.00 506.00h1.2M308.00 489.97h1.2M308.00 473.93h1.2M308.00 457.90h1.2M308.00 441.87h1.2M308.00 425.83h1.2M308.00 409.80h1.2M313.35 506.00v-1.2M329.40 506.00v-1.2M350.80 506.00v-1.2M372.20 506.00v-1.2M393.60 506.00v-1.2M412.86 506.00v-1.2" stroke="#b4b4b4" stroke-width="0.7"/><text x="361.80" y="527.40" text-anchor="middle" class="l">Precision</text><text x="411.90" y="407.50" text-anchor="end" class="ti">adam  1-3</text><path d="M313.35 500.50L318.70 501.80L329.40 505.50" fill="none" stroke="#a9541f" stroke-width="1.2" stroke-dasharray="5 2.8"/><path d="M311.35 500.50L315.35 500.50M313.35 498.50L313.35 502.50" stroke="#a9541f" stroke-width="0.9"/><path d="M316.70 501.80L320.70 501.80M318.70 499.80L318.70 503.80" stroke="#a9541f" stroke-width="0.9"/><path d="M327.40 505.50L331.40 505.50M329.40 503.50L329.40 507.50" stroke="#a9541f" stroke-width="0.9"/><rect x="312.00" y="504.65" width="2.70" height="2.70" fill="#9cc0ea" stroke="#4787d2" stroke-width="0.9"/><path d="M340.10 468.40L350.80 473.50L361.50 474.10L372.20 474.30L382.90 481.80L393.60 489.20L404.30 490.10L412.86 491.00" fill="none" stroke="#111111" stroke-width="1.2" stroke-dasharray="5 2.8"/><path d="M340.10 466.50L342.00 469.82L338.20 469.82Z" fill="#444" stroke="#111111" stroke-width="0.8"/><path d="M350.80 471.60L352.70 474.93L348.90 474.93Z" fill="#444" stroke="#111111" stroke-width="0.8"/><path d="M361.50 472.20L363.40 475.53L359.60 475.53Z" fill="#444" stroke="#111111" stroke-width="0.8"/><path d="M372.20 472.40L374.10 475.73L370.30 475.73Z" fill="#444" stroke="#111111" stroke-width="0.8"/><path d="M382.90 479.90L384.80 483.23L381.00 483.23Z" fill="#444" stroke="#111111" stroke-width="0.8"/><path d="M393.60 487.30L395.50 490.62L391.70 490.62Z" fill="#444" stroke="#111111" stroke-width="0.8"/><path d="M404.30 488.20L406.20 491.53L402.40 491.53Z" fill="#444" stroke="#111111" stroke-width="0.8"/><path d="M412.86 489.10L414.76 492.43L410.96 492.43Z" fill="#444" stroke="#111111" stroke-width="0.8"/><path d="M361.50 443.40L372.20 451.70L382.90 459.90L393.60 464.00L404.30 465.80L412.86 485.50" fill="none" stroke="#1fbf5f" stroke-width="1.2" stroke-dasharray="5 2.8"/><path d="M359.40 441.30L363.60 445.50M359.40 445.50L363.60 441.30" stroke="#1fbf5f" stroke-width="0.9"/><path d="M370.10 449.60L374.30 453.80M370.10 453.80L374.30 449.60" stroke="#1fbf5f" stroke-width="0.9"/><path d="M380.80 457.80L385.00 462.00M380.80 462.00L385.00 457.80" stroke="#1fbf5f" stroke-width="0.9"/><path d="M391.50 461.90L395.70 466.10M391.50 466.10L395.70 461.90" stroke="#1fbf5f" stroke-width="0.9"/><path d="M402.20 463.70L406.40 467.90M402.20 467.90L406.40 463.70" stroke="#1fbf5f" stroke-width="0.9"/><path d="M410.76 483.40L414.96 487.60M410.76 487.60L414.96 483.40" stroke="#1fbf5f" stroke-width="0.9"/><path d="M372.20 410.70L382.90 414.90L393.60 438.60L404.30 444.60L412.86 478.00" fill="none" stroke="#ff1e1e" stroke-width="1.2" stroke-dasharray="5 2.8"/><circle cx="372.20" cy="410.70" r="1.7" fill="none" stroke="#ff1e1e" stroke-width="1.0"/><circle cx="382.90" cy="414.90" r="1.7" fill="none" stroke="#ff1e1e" stroke-width="1.0"/><circle cx="393.60" cy="438.60" r="1.7" fill="none" stroke="#ff1e1e" stroke-width="1.0"/><circle cx="404.30" cy="444.60" r="1.7" fill="none" stroke="#ff1e1e" stroke-width="1.0"/><circle cx="412.86" cy="478.00" r="1.7" fill="none" stroke="#ff1e1e" stroke-width="1.0"/></g>
<rect x="110.5" y="535.8" width="224" height="9.2" fill="#fff" stroke="#9a9a9a" stroke-width="0.8"/><path d="M114.00 540.5h6.3M121.50 540.5h6M130.00 540.5h3.4" stroke="#ff1e1e" stroke-width="1.2"/><circle cx="123.50" cy="540.50" r="1.7" fill="none" stroke="#ff1e1e" stroke-width="1.0"/><text transform="translate(135.30 543.4) scale(1 1.12)" class="lg">OURS</text><path d="M158.60 540.5h6.3M166.10 540.5h6M174.60 540.5h3.4" stroke="#1fbf5f" stroke-width="1.2"/><path d="M166.00 538.40L170.20 542.60M166.00 542.60L170.20 538.40" stroke="#1fbf5f" stroke-width="0.9"/><text transform="translate(178.50 543.4) scale(1 1.12)" class="lg">SIFT</text><path d="M198.00 540.5h6.3M205.50 540.5h6M214.00 540.5h3.4" stroke="#4787d2" stroke-width="1.2"/><rect x="206.15" y="539.15" width="2.70" height="2.70" fill="#9cc0ea" stroke="#4787d2" stroke-width="0.9"/><text transform="translate(217.00 543.4) scale(1 1.12)" class="lg">SURF</text><path d="M240.30 540.5h6.3M247.80 540.5h6M256.30 540.5h3.4" stroke="#111111" stroke-width="1.2"/><path d="M249.80 538.60L251.70 541.92L247.90 541.92Z" fill="#444" stroke="#111111" stroke-width="0.8"/><text transform="translate(259.60 543.4) scale(1 1.12)" class="lg">BRISK</text><path d="M286.20 540.5h6.3M293.70 540.5h6M302.20 540.5h3.4" stroke="#a9541f" stroke-width="1.2"/><path d="M293.70 540.50L297.70 540.50M295.70 538.50L295.70 542.50" stroke="#a9541f" stroke-width="0.9"/><text transform="translate(308.00 543.4) scale(1 1.12)" class="lg">BEBLID</text>
</svg>
</body></html>
